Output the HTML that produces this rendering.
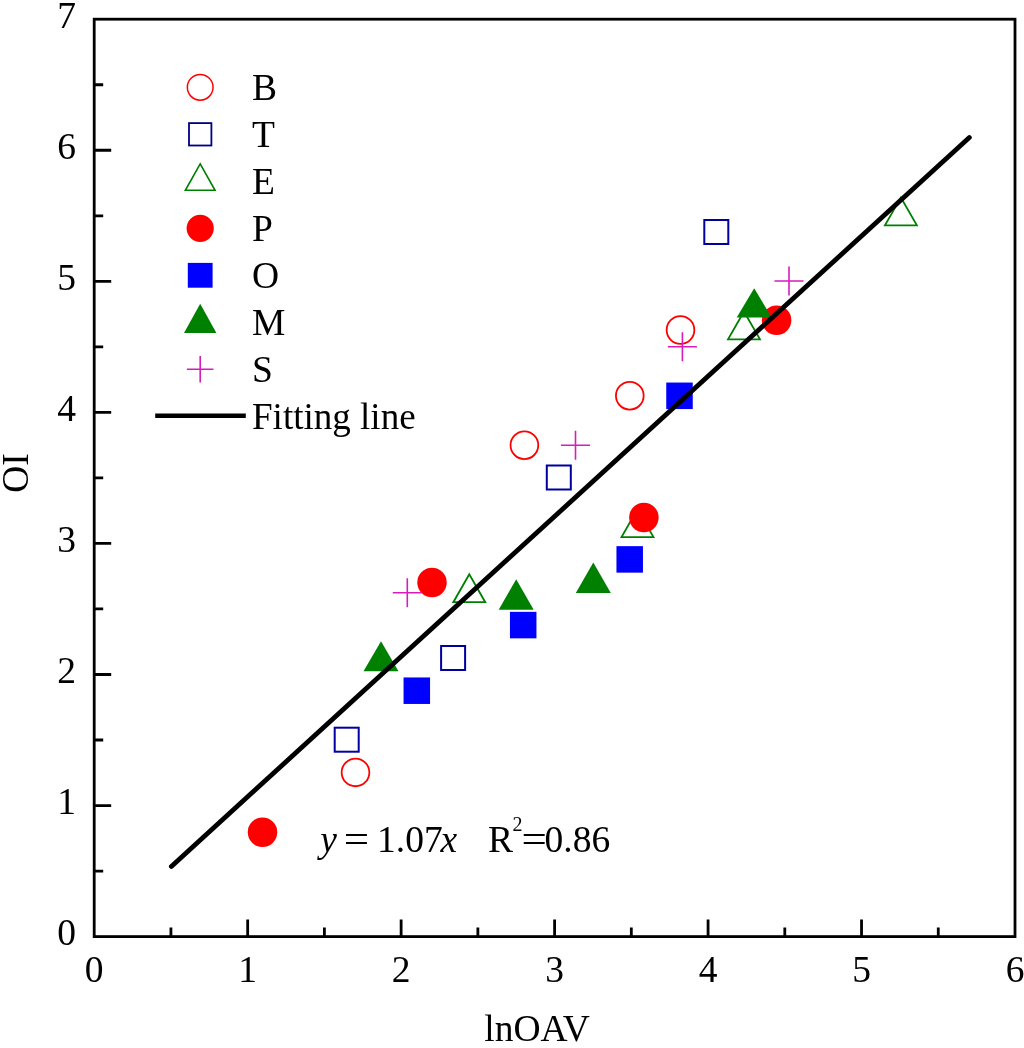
<!DOCTYPE html>
<html><head><meta charset="utf-8"><title>OI vs lnOAV</title>
<style>
html,body{margin:0;padding:0;background:#fff;}
body{width:1024px;height:1048px;overflow:hidden;}
svg{display:block;filter:blur(0.45px);}
</style></head>
<body>
<svg width="1024" height="1048" viewBox="0 0 1024 1048">
<rect width="1024" height="1048" fill="#fff"/>
<rect x="94.2" y="19.2" width="920.80" height="917.40" fill="none" stroke="#000" stroke-width="2.8"/>
<path d="M170.93 936.60V927.60M247.67 936.60V919.60M324.40 936.60V927.60M401.13 936.60V919.60M477.87 936.60V927.60M554.60 936.60V919.60M631.33 936.60V927.60M708.07 936.60V919.60M784.80 936.60V927.60M861.53 936.60V919.60M938.27 936.60V927.60M94.20 871.07H103.20M94.20 805.54H111.20M94.20 740.01H103.20M94.20 674.49H111.20M94.20 608.96H103.20M94.20 543.43H111.20M94.20 477.90H103.20M94.20 412.37H111.20M94.20 346.84H103.20M94.20 281.31H111.20M94.20 215.79H103.20M94.20 150.26H111.20M94.20 84.73H103.20" stroke="#000" stroke-width="2.8" fill="none"/>
<text x="76" y="945.40" text-anchor="end" style="font-family:'Liberation Serif','Times New Roman',serif;font-size:37.5px">0</text>
<text x="76" y="814.34" text-anchor="end" style="font-family:'Liberation Serif','Times New Roman',serif;font-size:37.5px">1</text>
<text x="76" y="683.29" text-anchor="end" style="font-family:'Liberation Serif','Times New Roman',serif;font-size:37.5px">2</text>
<text x="76" y="552.23" text-anchor="end" style="font-family:'Liberation Serif','Times New Roman',serif;font-size:37.5px">3</text>
<text x="76" y="421.17" text-anchor="end" style="font-family:'Liberation Serif','Times New Roman',serif;font-size:37.5px">4</text>
<text x="76" y="290.11" text-anchor="end" style="font-family:'Liberation Serif','Times New Roman',serif;font-size:37.5px">5</text>
<text x="76" y="159.06" text-anchor="end" style="font-family:'Liberation Serif','Times New Roman',serif;font-size:37.5px">6</text>
<text x="76" y="28.00" text-anchor="end" style="font-family:'Liberation Serif','Times New Roman',serif;font-size:37.5px">7</text>
<text x="94.20" y="982" text-anchor="middle" style="font-family:'Liberation Serif','Times New Roman',serif;font-size:37.5px">0</text>
<text x="247.67" y="982" text-anchor="middle" style="font-family:'Liberation Serif','Times New Roman',serif;font-size:37.5px">1</text>
<text x="401.13" y="982" text-anchor="middle" style="font-family:'Liberation Serif','Times New Roman',serif;font-size:37.5px">2</text>
<text x="554.60" y="982" text-anchor="middle" style="font-family:'Liberation Serif','Times New Roman',serif;font-size:37.5px">3</text>
<text x="708.07" y="982" text-anchor="middle" style="font-family:'Liberation Serif','Times New Roman',serif;font-size:37.5px">4</text>
<text x="861.53" y="982" text-anchor="middle" style="font-family:'Liberation Serif','Times New Roman',serif;font-size:37.5px">5</text>
<text x="1015.00" y="982" text-anchor="middle" style="font-family:'Liberation Serif','Times New Roman',serif;font-size:37.5px">6</text>
<text x="484.3" y="1040.5" style="font-family:'Liberation Serif','Times New Roman',serif;font-size:37.5px">lnOAV</text>
<text transform="translate(28 473) rotate(-90)" text-anchor="middle" style="font-family:'Liberation Serif','Times New Roman',serif;font-size:37.5px">OI</text>
<circle cx="355.5" cy="772.4" r="13.85" fill="none" stroke="#ff0000" stroke-width="1.8"/>
<circle cx="524.4" cy="445.2" r="13.85" fill="none" stroke="#ff0000" stroke-width="1.8"/>
<circle cx="629.8" cy="395.7" r="13.85" fill="none" stroke="#ff0000" stroke-width="1.8"/>
<circle cx="680.5" cy="330.0" r="13.85" fill="none" stroke="#ff0000" stroke-width="1.8"/>
<rect x="334.70" y="727.70" width="24.00" height="24.00" fill="none" stroke="#0000a0" stroke-width="2.0"/>
<rect x="441.10" y="646.00" width="24.00" height="24.00" fill="none" stroke="#0000a0" stroke-width="2.0"/>
<rect x="546.80" y="465.50" width="24.00" height="24.00" fill="none" stroke="#0000a0" stroke-width="2.0"/>
<rect x="704.30" y="220.00" width="24.00" height="24.00" fill="none" stroke="#0000a0" stroke-width="2.0"/>
<polygon points="469.30,574.30 453.33,602.20 485.27,602.20" fill="none" stroke="#008000" stroke-width="1.8" stroke-linejoin="miter"/>
<polygon points="637.50,509.30 621.53,537.10 653.47,537.10" fill="none" stroke="#008000" stroke-width="1.8" stroke-linejoin="miter"/>
<polygon points="744.00,311.50 728.03,339.30 759.97,339.30" fill="none" stroke="#008000" stroke-width="1.8" stroke-linejoin="miter"/>
<polygon points="900.90,197.60 884.93,225.40 916.87,225.40" fill="none" stroke="#008000" stroke-width="1.8" stroke-linejoin="miter"/>
<circle cx="262.5" cy="832.2" r="14.75" fill="#ff0000"/>
<circle cx="432.0" cy="582.5" r="14.75" fill="#ff0000"/>
<circle cx="643.9" cy="517.5" r="14.75" fill="#ff0000"/>
<circle cx="776.6" cy="320.3" r="14.75" fill="#ff0000"/>
<rect x="403.55" y="677.45" width="26.50" height="26.50" fill="#0000ff"/>
<rect x="509.95" y="611.85" width="26.50" height="26.50" fill="#0000ff"/>
<rect x="616.45" y="546.15" width="26.50" height="26.50" fill="#0000ff"/>
<rect x="666.25" y="382.55" width="26.50" height="26.50" fill="#0000ff"/>
<polygon points="381.00,641.20 363.50,671.25 398.50,671.25" fill="#008000"/>
<polygon points="516.20,579.20 498.70,609.70 533.70,609.70" fill="#008000"/>
<polygon points="593.30,562.40 575.80,592.90 610.80,592.90" fill="#008000"/>
<polygon points="754.20,288.20 736.70,317.60 771.70,317.60" fill="#008000"/>
<path d="M392.80 592.80H421.80M407.30 578.30V607.30" stroke="#d81cbc" stroke-width="1.6" fill="none"/>
<path d="M561.00 445.20H590.00M575.50 430.70V459.70" stroke="#d81cbc" stroke-width="1.6" fill="none"/>
<path d="M667.90 346.80H696.90M682.40 332.30V361.30" stroke="#d81cbc" stroke-width="1.6" fill="none"/>
<path d="M774.50 281.00H803.50M789.00 266.50V295.50" stroke="#d81cbc" stroke-width="1.6" fill="none"/>
<line x1="171.35" y1="866.5" x2="969.35" y2="137.55" stroke="#000" stroke-width="4.8" stroke-linecap="round"/>
<circle cx="200.2" cy="87.3" r="12.85" fill="none" stroke="#ff0000" stroke-width="1.5"/>
<rect x="189.00" y="123.10" width="22.40" height="22.40" fill="none" stroke="#000080" stroke-width="1.8"/>
<polygon points="200.20,163.90 185.36,190.30 215.04,190.30" fill="none" stroke="#008000" stroke-width="1.6" stroke-linejoin="miter"/>
<circle cx="200.2" cy="228.29999999999998" r="13.60" fill="#ff0000"/>
<rect x="187.80" y="262.90" width="24.80" height="24.80" fill="#0000ff"/>
<polygon points="200.20,303.70 184.00,332.90 216.40,332.90" fill="#008000"/>
<path d="M186.95 369.30H213.45M200.20 356.05V382.55" stroke="#d81cbc" stroke-width="1.6" fill="none"/>
<line x1="155.2" y1="415.75" x2="245.8" y2="415.75" stroke="#000" stroke-width="4.5"/>
<text x="252" y="99.70" style="font-family:'Liberation Serif','Times New Roman',serif;font-size:37.5px">B</text>
<text x="252" y="146.70" style="font-family:'Liberation Serif','Times New Roman',serif;font-size:37.5px">T</text>
<text x="252" y="193.70" style="font-family:'Liberation Serif','Times New Roman',serif;font-size:37.5px">E</text>
<text x="252" y="240.70" style="font-family:'Liberation Serif','Times New Roman',serif;font-size:37.5px">P</text>
<text x="252" y="287.70" style="font-family:'Liberation Serif','Times New Roman',serif;font-size:37.5px">O</text>
<text x="252" y="334.70" style="font-family:'Liberation Serif','Times New Roman',serif;font-size:37.5px">M</text>
<text x="252" y="381.70" style="font-family:'Liberation Serif','Times New Roman',serif;font-size:37.5px">S</text>
<text transform="translate(252 428.70) scale(0.988 1)" style="font-family:'Liberation Serif','Times New Roman',serif;font-size:37.5px">Fitting line</text>
<text x="320.3" y="851.6" style="font-family:'Liberation Serif','Times New Roman',serif;font-size:37.5px;font-style:italic">y</text>
<text transform="matrix(1.2 0 0 1 343.7 851.6)" style="font-family:'Liberation Serif','Times New Roman',serif;font-size:37.5px">=</text>
<text x="377" y="851.6" style="font-family:'Liberation Serif','Times New Roman',serif;font-size:37.5px">1.07</text>
<text x="440.4" y="851.6" style="font-family:'Liberation Serif','Times New Roman',serif;font-size:37.5px;font-style:italic">x</text>
<text x="487.9" y="851.6" style="font-family:'Liberation Serif','Times New Roman',serif;font-size:37.5px">R</text>
<text x="512.5" y="830.5" style="font-family:'Liberation Serif','Times New Roman',serif;font-size:20px">2</text>
<text transform="matrix(1.2 0 0 1 521.4 851.6)" style="font-family:'Liberation Serif','Times New Roman',serif;font-size:37.5px">=</text>
<text x="544.6" y="851.6" style="font-family:'Liberation Serif','Times New Roman',serif;font-size:37.5px">0.86</text>
</svg>
</body></html>
